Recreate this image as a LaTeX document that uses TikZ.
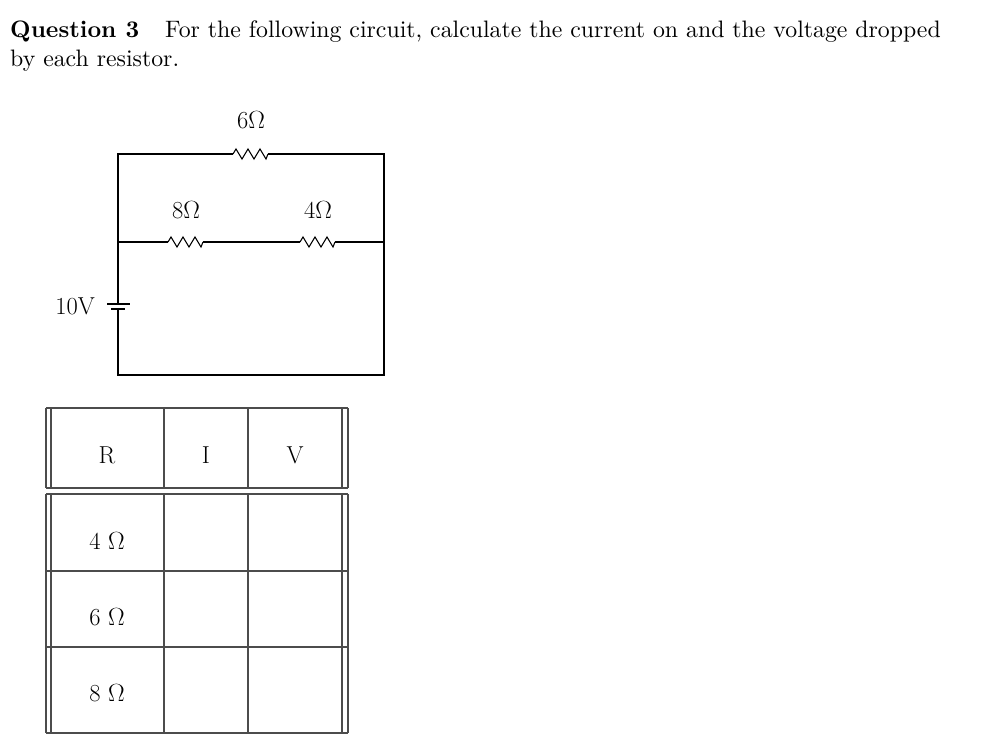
\documentclass[tikz,border=0pt]{standalone}
\font\qreg="[lmroman10-regular.otf]" at 23.8pt
\font\qbf="[lmroman10-bold.otf]" at 23.8pt
\begin{document}
\begin{tikzpicture}[x=1pt,y=-1pt,
  txt/.style={font=\fontsize{24.5}{30}\selectfont,inner sep=0pt},
  wire/.style={line width=1.1pt},
  tline/.style={line width=1.3pt,black!70}]
\useasboundingbox (0,0) rectangle (985,753);
% title
\node[inner sep=0pt,anchor=base west] (t1) at (10,37) {{\qbf Question 3}\hspace{26pt}{\qreg For the following circuit, calculate the current on and the voltage dropped}};
\node[inner sep=0pt,anchor=base west] (t2) at (10,66) {\qreg by each resistor.};
% circuit coordinates
\coordinate (TL) at (118,154); \coordinate (TR) at (384,154);
\coordinate (ML) at (118,242); \coordinate (MR) at (384,242);
\coordinate (BL) at (118,375); \coordinate (BR) at (384,375);
\coordinate (bt) at (118,304); \coordinate (bb) at (118,309);
% wires
\draw[wire] (bt) -- (ML) -- (TL) -- (233,154);
\draw[wire] (268,154) -- (TR) -- (MR) -- (BR) -- (BL) -- (bb);
\draw[wire] (ML) -- (168,242); \draw[wire] (203,242) -- (300,242); \draw[wire] (335,242) -- (MR);
% resistors
\foreach \x/\y in {233/154,168/242,300/242}{
  \draw[wire,line join=miter] (\x,\y) -- ++(3,-5) -- ++(6,10) -- ++(6,-10) -- ++(6,10) -- ++(6,-10) -- ++(6,10) -- ++(2,-5);
}
% battery
\draw[wire] (107,304) -- (130,304);
\draw[wire] (111,309) -- (125,309);
% labels
\node[txt] (l6) at (251,120) {6$\Omega$};
\node[txt] (l8) at (186,210) {8$\Omega$};
\node[txt] (l4) at (318,210) {4$\Omega$};
\node[txt] (l10) at (75,306) {10V};
% table
\foreach \x in {46,51,164,248,342,348}{ \draw[tline] (\x,408) -- (\x,488); \draw[tline] (\x,494) -- (\x,733); }
\draw[tline] (46,408) -- (348,408);
\draw[tline] (46,488) -- (348,488);
\draw[tline] (46,494) -- (348,494);
\draw[tline] (46,571) -- (348,571);
\draw[tline] (46,647) -- (348,647);
\draw[tline] (46,733) -- (348,733);
\node[txt] (hR) at (107,455) {R};
\node[txt] (hI) at (206,455) {I};
\node[txt] (hV) at (295,455) {V};
\node[txt] (r4) at (107,541) {4 $\Omega$};
\node[txt] (r6) at (107,617) {6 $\Omega$};
\node[txt] (r8) at (107,693) {8 $\Omega$};
\end{tikzpicture}
\end{document}
